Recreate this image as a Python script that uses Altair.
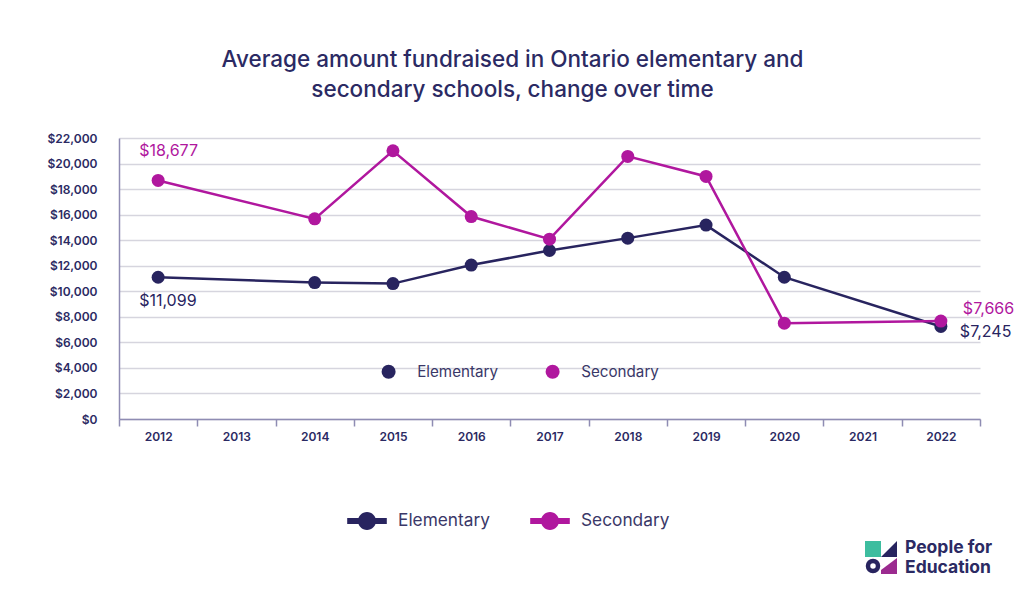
import altair as alt
import pandas as pd

# ---- data -------------------------------------------------------------
years = [str(y) for y in range(2012, 2023)]
data_years = ["2012", "2014", "2015", "2016", "2017", "2018", "2019", "2020", "2022"]
elementary = [11099, 10680, 10600, 12050, 13190, 14160, 15180, 11100, 7245]
secondary = [18677, 15670, 21000, 15850, 14080, 20560, 18990, 7500, 7666]
series_names = ["Elementary", "Secondary"]
y_ticks = list(range(0, 22001, 2000))

title_lines = [
    "Average amount fundraised in Ontario elementary and",
    "secondary schools, change over time",
]

NAVY = "#28245f"
MAGENTA = "#b0179e"
INK = "#2b2a63"
TEAL = "#3dbd9f"
FONT = "Inter"

rows = []
for name, vals in zip(series_names, [elementary, secondary]):
    for yr, v in zip(data_years, vals):
        rows.append({"year": yr, "series": name, "value": v})
df = pd.DataFrame(rows)

palette = alt.Scale(domain=series_names, range=[NAVY, MAGENTA])

x = alt.X(
    "year:O",
    scale=alt.Scale(type="band", domain=years, paddingInner=0, paddingOuter=0),
    axis=alt.Axis(
        title=None, labelAngle=0, tickBand="extent", grid=False,
        domainColor="#8f8cb3", domainWidth=1.5, tickColor="#8f8cb3", tickWidth=1.5,
        tickSize=7, labelPadding=5, labelFont=FONT, labelFontSize=12,
        labelFontWeight=600, labelColor=INK,
    ),
)
y = alt.Y(
    "value:Q",
    scale=alt.Scale(domain=[0, 22000], nice=False),
    axis=alt.Axis(
        title=None, values=y_ticks, format="$,.0f", ticks=False, tickSize=0,
        labelPadding=22, labelFont=FONT, labelFontSize=12, labelFontWeight=600,
        labelColor=INK, domainColor="#8f8cb3", domainWidth=1.5,
        gridColor="#d6d5de", gridWidth=1.5,
    ),
)

base = alt.Chart(df)

lines = base.mark_line(strokeWidth=2.5).encode(
    x=x, y=y, stroke=alt.Stroke("series:N", scale=palette, legend=None)
)

# markers, with the dot legend that sits inside the plot
points = base.mark_point(filled=True, size=169, opacity=1, strokeWidth=0).encode(
    x=x, y=y,
    fill=alt.Fill(
        "series:N", scale=palette,
        legend=alt.Legend(
            title=None, orient="none", direction="horizontal",
            legendX=262, legendY=226, padding=0,
            symbolType="circle", symbolSize=196, symbolStrokeWidth=0,
            labelOffset=21, columnPadding=46,
            labelFont=FONT, labelFontSize=15.2, labelColor="#3a3868",
        ),
    ),
)

# line-and-dot legend below the chart
legend_path = (
    "M-1.1,-0.17 L1.1,-0.17 L1.1,0.17 L-1.1,0.17 Z "
    "M-0.5,0 A0.5,0.5 0 1,1 0.5,0 A0.5,0.5 0 1,1 -0.5,0 Z"
)
key = base.mark_point(filled=True, opacity=0, size=10).encode(
    x=x, y=y,
    color=alt.Color(
        "series:N", scale=palette,
        legend=alt.Legend(
            title=None, orient="none", direction="horizontal",
            legendX=230, legendY=365, padding=0,
            symbolType=legend_path, symbolSize=1296, symbolOpacity=1,
            symbolStrokeWidth=0, labelOffset=13, columnPadding=39,
            labelFont=FONT, labelFontSize=17.3, labelColor="#3a3868",
        ),
    ),
)

# value call-outs at the first and last year
callouts = []
for yr, name, dx, dy, col in [
    ("2012", "Secondary", -19, -29, MAGENTA),
    ("2012", "Elementary", -19, 24, NAVY),
    ("2022", "Secondary", 22, -12, MAGENTA),
    ("2022", "Elementary", 19, 6, NAVY),
]:
    callouts.append(
        base.transform_filter(
            (alt.datum.year == yr) & (alt.datum.series == name)
        ).mark_text(
            align="left", baseline="middle", dx=dx, dy=dy,
            font=FONT, fontSize=16, color=col,
        ).encode(x=x, y=y, text=alt.Text("value:Q", format="$,.0f"))
    )

# organisation mark, bottom right
logo_df = pd.DataFrame({"k": [0]})
logo = alt.Chart(logo_df)
logo_layers = [
    logo.mark_point(shape="square", filled=True, size=256, color=TEAL, opacity=1)
        .encode(x=alt.value(754), y=alt.value(411)),
    logo.mark_point(shape="M1,-1 L1,1 L-1,1 Z", filled=True, size=256, color=NAVY, opacity=1)
        .encode(x=alt.value(770), y=alt.value(411)),
    logo.mark_point(shape="circle", filled=False, size=100, color=NAVY, strokeWidth=4.5, opacity=1)
        .encode(x=alt.value(754), y=alt.value(428)),
    logo.mark_point(shape="M1,-1 L1,1 L-1,1 L-1,0.5 Z", filled=True, size=256, color="#9b2a8f", opacity=1)
        .encode(x=alt.value(770), y=alt.value(428)),
    logo.mark_text(text="People for", align="left", baseline="middle", font=FONT,
                   fontSize=17.5, fontWeight="bold", color=INK)
        .encode(x=alt.value(786), y=alt.value(410)),
    logo.mark_text(text="Education", align="left", baseline="middle", font=FONT,
                   fontSize=17.5, fontWeight="bold", color=INK)
        .encode(x=alt.value(786), y=alt.value(430)),
]

chart = alt.layer(lines, points, key, *callouts, *logo_layers).properties(
    width=861,
    height=281,
    title=alt.TitleParams(
        text=title_lines, font=FONT, fontSize=22.5, fontWeight=500, color=INK,
        anchor="middle", dx=-37, offset=31, lineHeight=30,
    ),
    autosize=alt.AutoSizeParams(type="none"),
    padding={"left": 119, "top": 138, "right": 44, "bottom": 179},
    background="white",
).resolve_scale(
    fill="independent", stroke="independent", color="independent"
).configure_view(stroke=None)

chart.save("out.html", embed_options={"renderer": "svg", "actions": False})
